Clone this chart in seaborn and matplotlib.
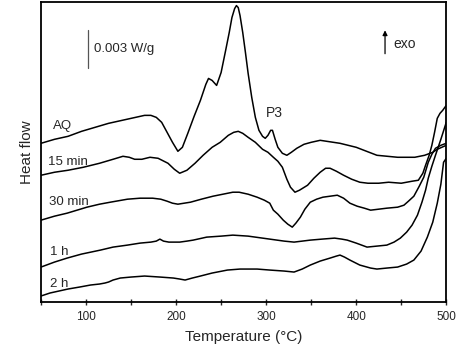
import pandas as pd
import seaborn as sns
from matplotlib import pyplot as plt

# DSC curves, heat flow in arbitrary units (curves are shifted vertically)
aq_t = [50, 65, 80, 95, 110, 125, 140, 155, 165, 172, 178, 184, 190, 196, 202, 207, 213, 220, 227, 233,
        236, 240, 245, 250, 255, 259, 262, 265, 267, 269, 271, 274, 277, 280, 284, 288, 292, 296, 299, 302,
        305, 307, 310, 313, 318, 323, 328, 334, 342, 350, 360, 382, 400, 423, 446, 465, 476, 485, 490, 495, 500]
aq_hf = [159, 163, 166, 171, 175, 179, 182, 185, 187, 187, 185, 180, 170, 160, 151, 155, 169, 186, 202, 218,
         224, 222, 217, 230, 252, 270, 285, 294, 297, 295, 287, 270, 250, 229, 205, 185, 172, 166, 164, 167,
         172, 172, 163, 155, 149, 147, 150, 154, 158, 160, 162, 159, 155, 147, 145, 145, 147, 150, 153, 155, 157]

m15_t = [50, 65, 80, 97, 115, 130, 141, 148, 154, 162, 171, 180, 191, 198, 204, 212, 221, 230, 240, 249,
         258, 264, 269, 274, 280, 288, 296, 302, 308, 313, 318, 323, 327, 332, 337, 346, 353, 360, 366, 371,
         378, 386, 395, 404, 413, 425, 436, 450, 462, 469, 474, 477, 481, 484, 487, 490, 493, 496, 500]
m15_hf = [127, 130, 132, 135, 139, 143, 146, 145, 143, 143, 145, 144, 139, 133, 129, 132, 139, 147, 155, 160,
          167, 170, 171, 169, 165, 160, 153, 150, 145, 141, 135, 123, 115, 110, 112, 117, 124, 130, 134, 134,
          131, 127, 123, 120, 119, 119, 120, 119, 121, 122, 129, 137, 147, 157, 170, 184, 189, 192, 197]

m30_t = [50, 65, 79, 90, 101, 115, 127, 146, 160, 174, 183, 190, 196, 202, 209, 216, 228, 241, 252, 263,
         270, 280, 290, 298, 304, 308, 313, 319, 324, 329, 333, 338, 343, 349, 356, 363, 371, 379, 386, 393,
         401, 409, 416, 425, 434, 446, 453, 458, 464, 470, 475, 480, 484, 488, 494, 500]
m30_hf = [82, 86, 89, 92, 95, 98, 100, 103, 104, 104, 103, 101, 99, 98, 99, 100, 103, 106, 108, 110,
          110, 108, 105, 102, 99, 92, 88, 82, 78, 75, 79, 85, 93, 100, 103, 105, 106, 107, 104, 99,
          96, 94, 92, 93, 94, 95, 97, 101, 106, 116, 125, 140, 148, 154, 157, 159]

h1_t = [50, 65, 79, 95, 116, 130, 146, 160, 172, 178, 182, 186, 192, 204, 212, 219, 234, 250, 263, 280,
        304, 320, 331, 340, 349, 362, 376, 384, 390, 400, 412, 423, 434, 442, 449, 456, 462, 468, 473, 477,
        480, 484, 488, 494, 500]
h1_hf = [35, 40, 44, 48, 52, 55, 57, 59, 60, 61, 63, 61, 60, 60, 61, 62, 65, 66, 67, 66,
         63, 61, 60, 61, 62, 63, 64, 63, 62, 59, 55, 56, 57, 60, 64, 70, 77, 87, 100, 112,
         124, 136, 147, 163, 180]

h2_t = [50, 60, 70, 80, 93, 105, 115, 121, 125, 130, 138, 150, 165, 182, 197, 204, 210, 218, 227, 240,
        257, 271, 290, 304, 320, 331, 340, 349, 360, 371, 378, 382, 387, 393, 404, 416, 423, 434, 446, 456,
        464, 472, 479, 485, 490, 494, 497, 500]
h2_hf = [6, 9, 11, 13, 15, 17, 18, 19, 20, 22, 24, 25, 26, 25, 24, 23, 22, 24, 26, 29,
         32, 33, 33, 32, 31, 30, 33, 37, 41, 44, 46, 47, 45, 42, 37, 34, 33, 34, 35, 38,
         42, 51, 65, 80, 99, 118, 140, 144]

curves = {
    "AQ": (aq_t, aq_hf),
    "15 min": (m15_t, m15_hf),
    "30 min": (m30_t, m30_hf),
    "1 h": (h1_t, h1_hf),
    "2 h": (h2_t, h2_hf),
}

# curve labels: (T, heat flow) of the lower left corner of the text
label_pos = {
    "AQ": (63, 170),
    "15 min": (58, 134),
    "30 min": (59, 94),
    "1 h": (60, 44),
    "2 h": (60, 12),
}

sns.set_theme(style="ticks")
plt.rcParams['font.family'] = ['Liberation Sans', 'DejaVu Sans']

fig = plt.figure(figsize=(4.74, 3.53), dpi=100)
ax = fig.add_axes([0.0865, 0.1445, 0.855, 0.851])

rows = []
for name, (t, hf) in curves.items():
    for ti, hi in zip(t, hf):
        rows.append({"sample": name, "T": ti, "hf": hi})
df = pd.DataFrame(rows)

sns.lineplot(data=df, x="T", y="hf", hue="sample", units="sample", estimator=None,
             palette=["black"] * len(curves), linewidth=1.1, sort=False, legend=False, ax=ax)

for name, (lx, ly) in label_pos.items():
    ax.text(lx, ly, name, fontsize=9.5, ha="left", va="bottom")

ax.text(300, 182, "P3", fontsize=10, ha="left", va="bottom")

# scale bar
ax.plot([102, 102], [234, 273], color="#555555", linewidth=0.9)
ax.text(109, 253, "0.003 W/g", fontsize=9.5, ha="left", va="center")

# exo arrow
ax.annotate("", xy=(432, 275), xytext=(432, 246),
            arrowprops=dict(arrowstyle="-|>", color="black", lw=0.9, mutation_scale=7))
ax.text(441, 259, "exo", fontsize=10, ha="left", va="center")

ax.set_xlim(50, 500)
ax.set_ylim(0, 301)
ax.set_xticks([100, 200, 300, 400, 500])
ax.set_xticks([50, 150, 250, 350, 450], minor=True)
ax.set_yticks([])
ax.tick_params(axis="x", which="both", direction="inout", length=5, width=1, labelsize=8.5, pad=4)
for s in ax.spines.values():
    s.set_visible(True)
    s.set_linewidth(1.3)
    s.set_color("black")

ax.set_xlabel("Temperature (°C)", fontsize=11, labelpad=5)
ax.set_ylabel("Heat flow", fontsize=11, labelpad=5)

fig.savefig("out.png", dpi=100)
